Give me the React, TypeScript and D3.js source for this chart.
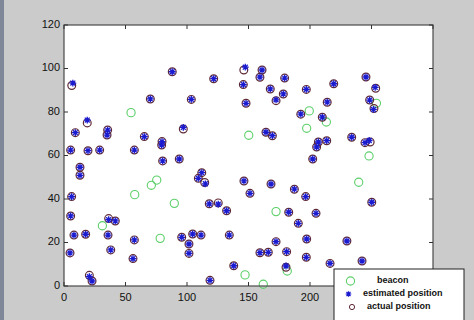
import React from "react";
import * as d3 from "d3";

const xTicks = [0, 50, 100, 150, 200, 250, 300];
const yTicks = [0, 20, 40, 60, 80, 100, 120];

const beacons: [number, number][] = [
  [54.5, 79.7], [150.2, 69.3], [199.4, 80.5], [254, 84], [213.3, 75.4], [197.3, 72.5],
  [248, 59.8], [239.6, 47.7], [75.4, 48.7], [71, 46.3], [57.5, 42], [89.7, 38],
  [31.2, 27.7], [78.2, 21.9], [172.4, 34.2], [181.5, 6.9], [147.2, 5.1], [162, 0.8],
];

const actual: [number, number][] = [
  [6.3, 92.2], [70.2, 86], [88, 98.5], [103.5, 85.8], [121.7, 95.3], [146.2, 99.3],
  [161, 99.3], [159.3, 96], [145.8, 92.6], [179.4, 95.6], [167.7, 90.6], [178.3, 88.3],
  [172.4, 85.2], [148, 84], [197, 90.4], [219.3, 93], [245.5, 96.1], [253.4, 90.9],
  [214, 84.5], [248.5, 85.5], [252, 81.6], [192.5, 79], [210, 77.6], [233.9, 68.4],
  [244.7, 65.9], [248.9, 66.2], [213.6, 66.8], [206.8, 66.2], [205.4, 63.9], [202.2, 58.4],
  [196.5, 41.1], [250.2, 38.5], [18.9, 75], [9.2, 70.5], [35.5, 71.7], [35, 69.4],
  [65.3, 68.7], [5.4, 62.5], [19.5, 62.2], [29, 62.5], [57.2, 62.5], [13, 54.6],
  [13, 50.9], [6.2, 41.1], [97, 72.2], [164.2, 70.7], [169.4, 69.1], [79.7, 66.4],
  [79.4, 64.8], [80.2, 57.5], [93.7, 58.4], [112, 52.1], [109.2, 49.5], [114.4, 47.6],
  [146.3, 48.3], [151.2, 42.6], [168.3, 46.9], [187.3, 44.5], [118.1, 37.8], [125.4, 38.2],
  [132.2, 34.6], [5.4, 32.2], [36.3, 31], [41.7, 29.9], [8.1, 23.4], [17.6, 23.8],
  [35.8, 23.4], [57.2, 21.2], [4.9, 15.2], [38, 16.6], [56.1, 12.6], [20.6, 4.9],
  [22.8, 2.3], [182.7, 33.9], [190.5, 28.8], [95.7, 22.4], [104.6, 23.9], [111.4, 23.4],
  [134.4, 23.4], [101.6, 19.3], [101.6, 15], [172.4, 20.4], [197.3, 21.6], [159.3, 15.3],
  [166.1, 15.5], [181, 15.8], [197, 13.2], [138, 9.3], [180.5, 8.6], [118.7, 2.6],
  [204.9, 33.4], [230, 20.7], [216.3, 10.4], [242.3, 11.5],
];

const estimated: [number, number][] = [
  [7.2, 93.3], [70.2, 86], [88, 98.5], [103.5, 85.8], [121.7, 95.3], [147.4, 100.6],
  [161, 99.3], [159.3, 96], [145.8, 92.6], [179.4, 95.6], [167.7, 90.6], [178.3, 88.3],
  [172.4, 85.6], [148, 84], [197, 90.4], [219.3, 93], [245.5, 96.1], [253, 91.3],
  [214, 84.5], [248.5, 85.5], [251.6, 81.2], [192.5, 79], [210, 77.6], [233.9, 68.4],
  [244.7, 65.9], [248.1, 66.9], [213.6, 66.8], [206.8, 66.2], [205.4, 63.9], [202.2, 58.4],
  [196.5, 41.1], [250.2, 38.5], [18.9, 76.3], [9.2, 70.5], [35.5, 71.7], [35, 69.4],
  [65.3, 68.7], [5.4, 62.5], [19.5, 62.2], [29, 62.5], [57.2, 62.5], [13, 54.6],
  [13, 50.9], [6.2, 41.1], [97, 72.9], [164.2, 70.7], [169.4, 69.1], [79.7, 66.4],
  [79.4, 64.8], [80.2, 57.5], [93.7, 58.4], [112, 52.1], [109.2, 49.5], [114.9, 47.0],
  [146.3, 48.3], [151.2, 42.6], [168.3, 46.9], [187.3, 44.5], [118.1, 37.8], [125.4, 37.6],
  [132.2, 34.6], [5.4, 32.2], [36.3, 30.5], [41.7, 29.9], [8.1, 23.4], [17.6, 23.8],
  [35.8, 23.4], [57.2, 21.2], [4.9, 15.2], [38, 16.6], [56.1, 12.6], [20.6, 4.3],
  [22.8, 2.3], [182.7, 33.9], [190.5, 28.8], [95.7, 22.4], [104.6, 23.9], [111.4, 23.4],
  [134.4, 23.4], [101.6, 19.3], [101.6, 15], [172.4, 20.4], [197.3, 21.6], [159.3, 15.3],
  [166.1, 15.5], [181, 15.8], [197, 13.2], [138, 9.3], [180.5, 9.2], [118.7, 2.6],
  [204.9, 33.4], [230, 20.7], [216.3, 10.4], [242.3, 11.5],
];

const legendLabels = ["beacon", "estimated position", "actual position"];

const W = 474, H = 320;
const L = 64, R = 433, T = 25, B = 286;
const LEG = { x: 334, y: 269, w: 130, h: 60 };

const BEACON = "#5ccf6a";
const EST = "#1a1ad0";
const ACT = "#5e2a35";

function asterisk(cx: number, cy: number, s: number) {
  const d = s * 0.72;
  return `M${cx - s},${cy}L${cx + s},${cy}M${cx},${cy - s}L${cx},${cy + s}` +
    `M${cx - d},${cy - d}L${cx + d},${cy + d}M${cx - d},${cy + d}L${cx + d},${cy - d}`;
}

export default function App() {
  const x = d3.scaleLinear().domain([0, 300]).range([L, R]);
  const y = d3.scaleLinear().domain([0, 120]).range([B, T]);
  const font = "'Liberation Sans', Arial, sans-serif";
  const tick = 4;
  return (
    <svg width={W} height={H} style={{ position: "absolute", left: 0, top: 0 }}>
      <rect x={0} y={0} width={W} height={H} fill="#cbcbcb" />
      <rect x={0} y={0} width={4} height={H} fill="#7f8898" />
      <rect x={L} y={T} width={R - L} height={B - T} fill="#ffffff" />
      {beacons.map(([bx, by], i) => (
        <circle key={"b" + i} cx={x(bx)} cy={y(by)} r={4.1} fill="none" stroke={BEACON} strokeWidth={1.1} />
      ))}
      {actual.map(([ax, ay], i) => (
        <circle key={"a" + i} cx={x(ax)} cy={y(ay)} r={3.9} fill="none" stroke={ACT} strokeWidth={1.2} />
      ))}
      {estimated.map(([ex, ey], i) => (
        <path key={"e" + i} d={asterisk(x(ex), y(ey), 3.4)} stroke={EST} strokeWidth={1.3} fill="none" />
      ))}
      <rect x={L} y={T} width={R - L} height={B - T} fill="none" stroke="#4a4a4a" strokeWidth={1.2} />
      {xTicks.map((t) => (
        <g key={"xt" + t}>
          <line x1={x(t)} x2={x(t)} y1={B} y2={B - tick} stroke="#333" />
          <line x1={x(t)} x2={x(t)} y1={T} y2={T + tick} stroke="#333" />
          {x(t) + 10 < LEG.x ? (
            <text x={x(t)} y={B + 12} textAnchor="middle" dominantBaseline="middle" fontFamily={font} fontSize={11} fill="#111">{t}</text>
          ) : null}
        </g>
      ))}
      {yTicks.map((t) => (
        <g key={"yt" + t}>
          <line x1={L} x2={L + tick} y1={y(t)} y2={y(t)} stroke="#333" />
          <line x1={R} x2={R - tick} y1={y(t)} y2={y(t)} stroke="#333" />
          <text x={L - 4} y={y(t)} textAnchor="end" dominantBaseline="middle" fontFamily={font} fontSize={11} fill="#111">{t}</text>
        </g>
      ))}
      <g>
        <rect x={LEG.x} y={LEG.y} width={LEG.w} height={LEG.h} fill="#ffffff" stroke="#222" strokeWidth={1} />
        <circle cx={350.5} cy={281} r={4.1} fill="none" stroke={BEACON} strokeWidth={1.1} />
        <path d={asterisk(348.5, 294, 2.8)} stroke={EST} strokeWidth={1.2} fill="none" />
        <circle cx={352} cy={307} r={2.6} fill="none" stroke={ACT} strokeWidth={1} />
        <text x={377} y={281} dominantBaseline="middle" fontFamily={font} fontWeight="bold" fontSize={9} fill="#111">{legendLabels[0]}</text>
        <text x={363} y={294} dominantBaseline="middle" fontFamily={font} fontWeight="bold" fontSize={9} fill="#111">{legendLabels[1]}</text>
        <text x={367} y={307} dominantBaseline="middle" fontFamily={font} fontWeight="bold" fontSize={9} fill="#111">{legendLabels[2]}</text>
      </g>
    </svg>
  );
}
